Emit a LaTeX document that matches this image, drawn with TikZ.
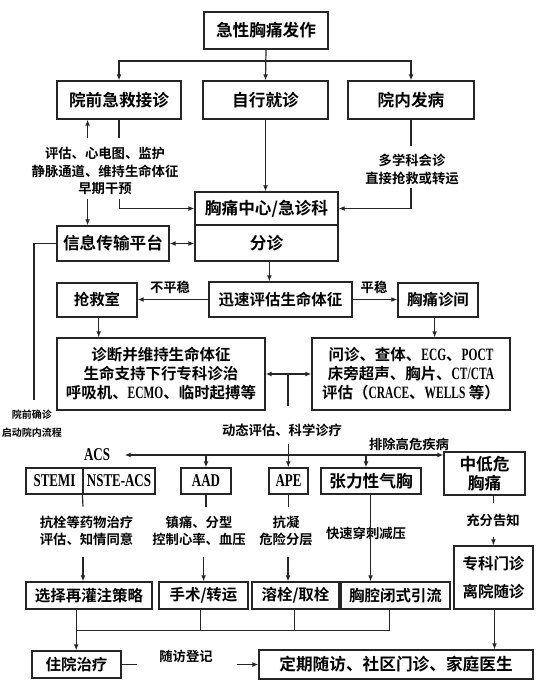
\documentclass[tikz,border=0pt]{standalone}
\usepackage{fontspec}
\usepackage{graphicx}
\setmainfont{Noto Sans CJK SC Bold}
\newfontfamily\latf{Liberation Serif}
\usetikzlibrary{arrows.meta,calc}
\newcommand\LT[1]{\scalebox{0.72}[1]{\latf\bfseries #1}}
\newcommand\LTb[1]{\scalebox{0.66}[1]{\fontsize{13pt}{14.25pt}\selectfont\latf\bfseries #1}}
\newcommand\fA{\fontsize{12.5pt}{14.5pt}\selectfont}
\newcommand\fL{\fontsize{13.5pt}{15pt}\selectfont}
\newcommand\fB{\fontsize{11.6pt}{14.25pt}\selectfont}
\newcommand\fC{\fontsize{10pt}{13.3pt}\selectfont}
\newcommand\fD{\fontsize{7.5pt}{13.5pt}\selectfont}
\newcommand\fE{\fontsize{11.6pt}{21.2pt}\selectfont}
% #1 options, #2 name, #3 x1, #4 y1, #5 x2, #6 y2
\newcommand\boxnode[6]{\node[box,#1,minimum width={(#5-#3)*0.75pt},minimum height={(#6-#4)*0.75pt}] (#2) at ({(#3+#5)/2},{(#4+#6)/2})}
\begin{document}
\begin{tikzpicture}[x=0.75pt,y=-0.75pt,
  box/.style={draw=black!85, line width=0.9pt, inner sep=0pt, align=center},
  lbl/.style={inner sep=0pt, align=center},
  ln/.style={line width=0.9pt, draw=black!85},
  arr/.style={ln, -{Latex[length=4.5pt,width=3.6pt]}},
  arrb/.style={ln, {Latex[length=4.5pt,width=3.6pt]}-{Latex[length=4.5pt,width=3.6pt]}}]
\useasboundingbox (0,0) rectangle (543,691);
\fill[white] (0,0) rectangle (543,691);

% boxes
\boxnode{font=\fA}{top}{204}{12}{328}{49} {急性胸痛发作};
\boxnode{font=\fA}{pre}{57}{81}{181}{119} {院前急救接诊};
\boxnode{font=\fA}{self}{203}{81}{328}{119} {自行就诊};
\boxnode{font=\fA}{inh}{348}{81}{474}{119} {院内发病};
\boxnode{font=\fA}{cpc}{195}{192}{338}{225} {胸痛中心/急诊科};
\boxnode{font=\fA}{tri}{195}{225}{338}{261} {分诊};
\boxnode{font=\fA}{info}{57}{226}{169}{261} {信息传输平台};
\boxnode{font=\fB}{ass}{209}{282}{352}{317} {迅速评估生命体征};
\boxnode{font=\fB}{res}{57}{283}{137}{317} {抢救室};
\boxnode{font=\fB}{cli}{398}{283}{478}{317} {胸痛诊间};
\boxnode{font=\fB}{dia}{57}{338}{265}{410} {诊断并维持生命体征\\生命支持下行专科诊治\\呼吸机、\LTb{ECMO}、临时起搏等};
\boxnode{font=\fB}{exa}{312}{338}{510}{410} {问诊、查体、\LTb{ECG}、\LTb{POCT}\\床旁超声、胸片、\LTb{CT/CTA}\\评估（\LTb{CRACE}、\LTb{WELLS} 等）};
\boxnode{font=\fL}{stemi}{26}{468}{83}{494} {\LT{STEMI}};
\boxnode{font=\fL}{nste}{83}{468}{155}{494} {\LT{NSTE-ACS}};
\boxnode{font=\fL}{aad}{181}{468}{231}{494} {\LT{AAD}};
\boxnode{font=\fL}{ape}{269}{468}{308}{494} {\LT{APE}};
\boxnode{font=\fA}{ptx}{321}{468}{421}{494} {张力性气胸};
\boxnode{font=\fA}{low}{444}{452}{525}{495} {中低危\\胸痛};
\boxnode{font=\fB}{sel}{26}{582}{152}{609} {选择再灌注策略};
\boxnode{font=\fB}{sur}{159}{582}{248}{609} {手术/转运};
\boxnode{font=\fB}{lys}{252}{582}{339}{609} {溶栓/取栓};
\boxnode{font=\fB}{dra}{341}{582}{450}{609} {胸腔闭式引流};
\boxnode{font=\fE}{spe}{454}{546}{533}{609} {专科门诊\\离院随诊};
\boxnode{font=\fB}{hos}{32}{651}{121}{678} {住院治疗};
\boxnode{font=\fA}{fol}{259}{650}{533}{679} {定期随访、社区门诊、家庭医生};

% labels
\node[lbl, font=\fC] (t1) at (105,171) {评估、心电图、监护\\静脉通道、维持生命体征\\早期干预};
\node[lbl, font=\fC] (t2) at (412,169.5) {多学科会诊\\直接抢救或转运};
\node[lbl, font=\fD] (t3) at (32,424) {院前确诊\\启动院内流程};
\node[lbl, font=\fC] (l1) at (170,287) {不平稳};
\node[lbl, font=\fC] (l2) at (374,287) {平稳};
\node[lbl, font=\fC] (t4) at (282,430) {动态评估、科学诊疗};
\node[lbl, font=\fL] (acs) at (97,455) {\LT{ACS}};
\node[lbl, font=\fC] (l3) at (409,444) {排除高危疾病};
\node[lbl, font=\fC] (t5) at (86.5,531) {抗栓等药物治疗\\评估、知情同意};
\node[lbl, font=\fC] (t6) at (199,531) {镇痛、分型\\控制心率、血压};
\node[lbl, font=\fC] (t7) at (286,531) {抗凝\\危险分层};
\node[lbl, font=\fC] (t8) at (366,533) {快速穿刺减压};
\node[lbl, font=\fC] (t9) at (493,520) {充分告知};
\node[lbl, font=\fC] (t10) at (186,656.7) {随访登记};

% coordinates
\coordinate (bus) at (266.6,61);
\coordinate (p1) at (87.6,138);
\coordinate (p3) at (119.5,199);
\coordinate (p4) at (87.6,199);
\coordinate (q1) at (411,146);
\coordinate (q2) at (411,188);
\coordinate (r1) at (34,400);
\coordinate (x269) at (269.4,0);
\coordinate (x98) at (98.7,0);
\coordinate (x434) at (434.6,0);
\coordinate (m1) at (288,374);
\coordinate (m2) at (288,406);
\coordinate (m3) at (288.3,444);
\coordinate (hL) at (124.7,455);
\coordinate (x366) at (366,0);
\coordinate (n1) at (83,506.7);
\coordinate (n2) at (83,556.7);
\coordinate (a1) at (206,506.7);
\coordinate (a2) at (203.6,556.7);
\coordinate (b1) at (288,506.7);
\coordinate (b2) at (288,556.7);
\coordinate (x370) at (370.5,0);
\coordinate (x493) at (493.4,0);
\coordinate (c1) at (493.4,503);
\coordinate (c2) at (493.4,536.7);
\coordinate (j1) at (76.2,630.7);
\coordinate (j2) at (389.5,630.7);
\coordinate (x200) at (200.8,0);
\coordinate (x294) at (294.3,0);
\coordinate (x494) at (494.5,0);
\coordinate (k1) at (136.8,664.5);
\coordinate (k2) at (237.2,664.5);

% connectors
\draw[arr] (top.south) -- (self.north);
\draw[arr] (bus) -| (pre.north);
\draw[arr] (bus) -| (inh.north);
\draw[arr] (p1) -- (p1 |- pre.south);
\draw[ln] (pre.south) -- (pre.south |- p1);
\draw[arr] (p3) |- (cpc.west);
\draw[arr] (p4) -- (p4 |- info.north);
\draw[arr] (self.south) -- (self.south |- cpc.north);
\draw[ln] (inh.south) -- (inh.south |- q1);
\draw[arr] (q2) |- (cpc.east);
\draw[arrb] (info.east) -- (info.east -| tri.west);
\draw[ln] (info.west) -| (r1);
\draw[arr] (tri.south -| x269) -- (ass.north -| x269);
\draw[arr] (ass.west) -- (ass.west -| res.east);
\draw[arr] (ass.east) -- (ass.east -| cli.west);
\draw[arr] (res.south -| x98) -- (dia.north -| x98);
\draw[arr] (cli.south -| x434) -- (exa.north -| x434);
\draw[arrb] (dia.east) -- (dia.east -| exa.west);
\draw[ln] (m1) -- (m2);
\draw[arr] (m3) -- (m3 |- ape.north);
\draw[arrb] (hL) -- (hL -| low.west);
\draw[arr] (aad.north |- hL) -- (aad.north);
\draw[arr] (hL -| x366) -- (ptx.north -| x366);
\draw[ln] (nste.south west) -- (n1);
\draw[arr] (n2) -- (n2 |- sel.north);
\draw[ln] (aad.south) -- (a1);
\draw[arr] (a2) -- (a2 |- sur.north);
\draw[ln] (ape.south) -- (ape.south |- b1);
\draw[arr] (b2) -- (b2 |- lys.north);
\draw[arr] (ptx.south -| x370) -- (dra.north -| x370);
\draw[ln] (low.south -| x493) -- (c1);
\draw[arr] (c2) -- (c2 |- spe.north);
\draw[ln] (sel.south -| j1) -- (j1) -- (j2) -- (j2 |- dra.south);
\draw[ln] (sur.south -| x200) -- (j1 -| x200);
\draw[ln] (lys.south -| x294) -- (j1 -| x294);
\draw[arr] (j1) -- (j1 |- hos.north);
\draw[arr] (spe.south -| x494) -- (fol.north -| x494);
\draw[ln] (hos.east) -- (k1);
\draw[arr] (k2) -- (fol.west);
\end{tikzpicture}
\end{document}
